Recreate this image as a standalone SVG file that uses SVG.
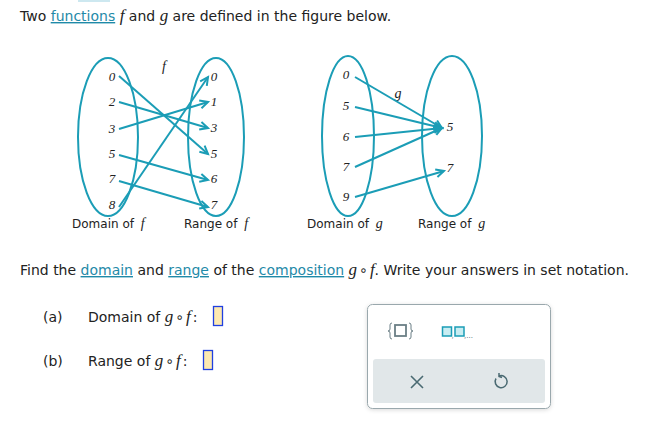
<svg xmlns="http://www.w3.org/2000/svg" width="647" height="438" viewBox="0 0 647 438">
<style>
.t{font-family:"DejaVu Sans","Verdana",sans-serif;font-size:14px;fill:#222}
.lk{fill:#1f8aa8;text-decoration:underline}
.m{font-family:"Liberation Serif","Times New Roman",serif;font-style:italic;font-size:17px;fill:#222}
.n{font-family:"Liberation Serif","Times New Roman",serif;font-style:italic;font-size:13px;fill:#222}
.lb{font-family:"DejaVu Sans","Verdana",sans-serif;font-size:12px;fill:#222}
.lm{font-family:"Liberation Serif","Times New Roman",serif;font-style:italic;font-size:14px;fill:#222}
.el{fill:none;stroke:#1b9db6;stroke-width:2}
.ar{fill:none;stroke:#1b9db6;stroke-width:2}
.ans{fill:#fde9b0;stroke:#2040e0;stroke-width:1.3}
</style>
<defs>
<marker id="ah" markerUnits="userSpaceOnUse" markerWidth="12" markerHeight="12" refX="9" refY="5" orient="auto" viewBox="0 0 12 10">
<path d="M1,1 L9,5 L1,9" fill="none" stroke="#1b9db6" stroke-width="2"/>
</marker>
<filter id="sh" x="-10%" y="-10%" width="120%" height="130%">
<feDropShadow dx="0" dy="1" stdDeviation="2" flood-color="#000" flood-opacity="0.15"/>
</filter>
</defs>
<rect width="647" height="438" fill="#fff"/>
<rect x="78" y="0" width="32" height="2" fill="#cde8f0"/>

<text class="t" x="20" y="21">Two <tspan class="lk">functions</tspan> <tspan class="m">f</tspan> and <tspan class="m">g</tspan> are defined in the figure below.</text>

<g id="f-domain">
<ellipse class="el" cx="108" cy="137" rx="30" ry="79"/>
<text class="n" x="112" y="81" text-anchor="middle">0</text>
<text class="n" x="112" y="106" text-anchor="middle">2</text>
<text class="n" x="112" y="133" text-anchor="middle">3</text>
<text class="n" x="112" y="158" text-anchor="middle">5</text>
<text class="n" x="112" y="183" text-anchor="middle">7</text>
<text class="n" x="112" y="209" text-anchor="middle">8</text>
<text class="lb" x="72" y="228">Domain of <tspan class="lm" dx="3">f</tspan></text>
</g>
<g id="f-range">
<ellipse class="el" cx="216" cy="137" rx="28" ry="79"/>
<text class="n" x="214" y="81" text-anchor="middle">0</text>
<text class="n" x="214" y="106" text-anchor="middle">1</text>
<text class="n" x="214" y="132" text-anchor="middle">3</text>
<text class="n" x="214" y="158" text-anchor="middle">5</text>
<text class="n" x="214" y="183" text-anchor="middle">6</text>
<text class="n" x="214" y="209" text-anchor="middle">7</text>
<text class="lb" x="184" y="228">Range of <tspan class="lm" dx="3">f</tspan></text>
</g>
<text class="lm" x="164" y="71" text-anchor="middle">f</text>

<g id="g-domain">
<ellipse class="el" cx="348" cy="136" rx="26" ry="80"/>
<text class="n" x="346" y="79" text-anchor="middle">0</text>
<text class="n" x="346" y="110" text-anchor="middle">5</text>
<text class="n" x="346" y="141" text-anchor="middle">6</text>
<text class="n" x="346" y="171" text-anchor="middle">7</text>
<text class="n" x="346" y="201" text-anchor="middle">9</text>
<text class="lb" x="307" y="228">Domain of <tspan class="lm" dx="3">g</tspan></text>
</g>
<g id="g-range">
<ellipse class="el" cx="452" cy="136" rx="30" ry="80"/>
<text class="n" x="450" y="131" text-anchor="middle">5</text>
<text class="n" x="450" y="172" text-anchor="middle">7</text>
<text class="lb" x="418" y="228">Range of <tspan class="lm" dx="3">g</tspan></text>
</g>
<text class="lm" x="398" y="98" text-anchor="middle">g</text>

<g id="connectors">
<line class="ar" x1="119" y1="76" x2="208" y2="154" marker-end="url(#ah)"/>
<line class="ar" x1="119" y1="102" x2="208" y2="128" marker-end="url(#ah)"/>
<line class="ar" x1="119" y1="129" x2="208" y2="102" marker-end="url(#ah)"/>
<line class="ar" x1="119" y1="155" x2="208" y2="180" marker-end="url(#ah)"/>
<line class="ar" x1="119" y1="181" x2="208" y2="207" marker-end="url(#ah)"/>
<line class="ar" x1="119" y1="207" x2="208" y2="77" marker-end="url(#ah)"/>
<line class="ar" x1="355" y1="77" x2="442" y2="128" marker-end="url(#ah)"/>
<line class="ar" x1="355" y1="107" x2="442" y2="128" marker-end="url(#ah)"/>
<line class="ar" x1="355" y1="137" x2="442" y2="128" marker-end="url(#ah)"/>
<line class="ar" x1="355" y1="167" x2="442" y2="128" marker-end="url(#ah)"/>
<line class="ar" x1="355" y1="197" x2="444" y2="171" marker-end="url(#ah)"/>
</g>

<text class="t" x="20" y="275">Find the <tspan class="lk">domain</tspan> and <tspan class="lk">range</tspan> of the <tspan class="lk">composition</tspan> <tspan class="m">g</tspan><tspan dx="2">∘</tspan><tspan class="m" dx="2">f</tspan>. Write your answers in set notation.</text>

<text class="t" x="43" y="322">(a)</text>
<text class="t" x="88" y="322">Domain of <tspan class="m">g</tspan><tspan dx="2">∘</tspan><tspan class="m" dx="2">f</tspan><tspan dx="2">:</tspan></text>
<rect class="ans" x="213.5" y="306.5" width="9" height="19"/>
<text class="t" x="43" y="366">(b)</text>
<text class="t" x="88" y="366">Range of <tspan class="m">g</tspan><tspan dx="2">∘</tspan><tspan class="m" dx="2">f</tspan><tspan dx="2">:</tspan></text>
<rect class="ans" x="203.5" y="350.5" width="9" height="19"/>

<g id="panel">
<rect x="367.5" y="304.5" width="183" height="104" rx="5" fill="#fff" stroke="#9aa8ad" filter="url(#sh)"/>
<rect x="373" y="359" width="172" height="44" rx="3" fill="#e1e7e9"/>
<path d="M392,323 q-2,0 -2,2 v4 q0,2 -2,2 q2,0 2,2 v4 q0,2 2,2 M409,323 q2,0 2,2 v4 q0,2 2,2 q-2,0 -2,2 v4 q0,2 -2,2" fill="none" stroke="#6b7f86" stroke-width="1"/>
<rect x="395" y="325" width="11" height="11" fill="#fff" stroke="#6b7f86" stroke-width="1.8"/>
<rect x="442.5" y="327" width="9" height="9" fill="#c8edf2" stroke="#1b9db6" stroke-width="1.5"/>
<rect x="455" y="327" width="9" height="9" fill="#c8edf2" stroke="#1b9db6" stroke-width="1.5"/>
<text x="451.5" y="338" font-family="DejaVu Sans,sans-serif" font-size="7" fill="#4a6a72">,</text>
<text x="464" y="338" font-family="DejaVu Sans,sans-serif" font-size="7" fill="#4a6a72">,...</text>
<path d="M411,376 l12,12 M423,376 l-12,12" stroke="#4a6a72" stroke-width="1.6"/>
<path d="M499,376 a6,6 0 1 1 -3,2.5 M499,373 l0,3.5 l3,1" fill="none" stroke="#4a6a72" stroke-width="1.5"/>
</g>
</svg>
